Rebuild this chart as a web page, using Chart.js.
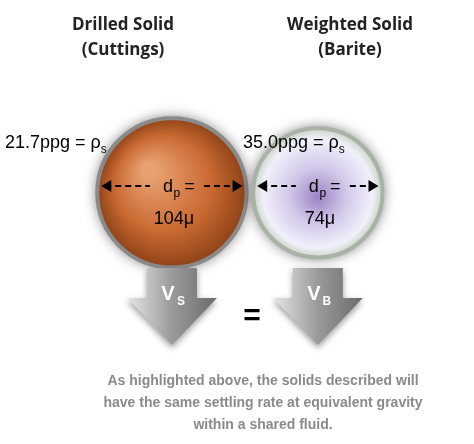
<!DOCTYPE html>
<html><head><meta charset="utf-8">
<script src="https://cdn.jsdelivr.net/npm/chart.js@4"></script>
<style>html,body{margin:0;background:#fff}#wrap{width:474px;height:444px}</style>
</head><body><div id="wrap"><canvas id="myChart"></canvas></div>
<script>
var titles = [["Drilled Solid", "(Cuttings)"], ["Weighted Solid", "(Barite)"]];
var densities = ["21.7ppg", "35.0ppg"];
var diameters = [104, 74];
var velocityLabels = ["S", "B"];
var xPos = [142, 355];
var note = ["As highlighted above, the solids described will",
            "have the same settling rate at equivalent gravity",
            "within a shared fluid."];

var fills = [
  function (c, x, y, r) {
    var g = c.createRadialGradient(x - r * 0.3, y - r * 0.3, r * 0.1, x, y, r);
    g.addColorStop(0, '#e8a070'); g.addColorStop(0.6, '#c96a32'); g.addColorStop(1, '#8f4317');
    return g;
  },
  function (c, x, y, r) {
    var g = c.createRadialGradient(x, y + 5, 0, x, y, r);
    g.addColorStop(0, '#9d84c4'); g.addColorStop(0.45, '#d3c9ea'); g.addColorStop(0.85, '#f1f0fa'); g.addColorStop(1, '#c9d4c4');
    return g;
  }
];

var drawing = {
  id: 'drawing',
  afterDatasetsDraw: function (chart) {
    var c = chart.ctx;
    var meta = chart.getDatasetMeta(0);
    c.save();
    c.textAlign = 'center';
    meta.data.forEach(function (pt, i) {
      var x = pt.x, y = pt.y, r = pt.options.radius;
      c.shadowColor = 'rgba(0,0,0,0.6)'; c.shadowBlur = 14;
      c.beginPath(); c.arc(x, y, r, 0, Math.PI * 2);
      c.fillStyle = fills[i](c, x, y, r); c.fill();
      c.shadowBlur = 0;
      c.lineWidth = 4; c.strokeStyle = i ? '#a9b2a6' : '#8a8a8a'; c.stroke();
      c.fillStyle = '#222'; c.font = 'bold 17px "Open Sans", sans-serif';
      c.fillText(titles[i][0], i ? 350 : 123, 30);
      c.fillText(titles[i][1], i ? 350 : 123, 55);
      c.font = '18px "Liberation Sans", Arial, sans-serif'; c.textAlign = 'left';
      c.fillStyle = '#000';
      var tx = i ? 243 : 5;
      c.fillText(densities[i] + ' = ρ', tx, 148);
      var w = c.measureText(densities[i] + ' = ρ').width;
      c.font = '12px "Liberation Sans", Arial, sans-serif';
      c.fillText('s', tx + w, 153);
      c.textAlign = 'center';
      c.font = '18px "Liberation Sans", Arial, sans-serif';
      c.fillText('d', x - 4, 192); c.font = '12px "Liberation Sans", Arial, sans-serif';
      c.fillText('p', x + 5, 197);
      c.font = '18px "Liberation Sans", Arial, sans-serif';
      c.fillText('= ', x + 20, 192);
      c.fillText(diameters[i] + 'μ', x + 2, 224);
      c.setLineDash([6, 4]); c.lineWidth = 2; c.strokeStyle = '#000';
      c.beginPath(); c.moveTo(x - r + 8, 186); c.lineTo(x - 22, 186);
      c.moveTo(x + 32, 186); c.lineTo(x + r - 8, 186); c.stroke();
      c.setLineDash([]);
      c.beginPath();
      c.moveTo(x - r + 4, 186); c.lineTo(x - r + 14, 180); c.lineTo(x - r + 14, 192); c.closePath();
      c.moveTo(x + r - 4, 186); c.lineTo(x + r - 14, 180); c.lineTo(x + r - 14, 192); c.closePath();
      c.fillStyle = '#000'; c.fill();
      var ag = c.createLinearGradient(x - 45, 0, x + 45, 0);
      ag.addColorStop(0, '#e6e6e6'); ag.addColorStop(0.5, '#9a9a9a'); ag.addColorStop(1, '#6a6a6a');
      c.shadowColor = 'rgba(0,0,0,0.4)'; c.shadowBlur = 6; c.shadowOffsetY = 3;
      c.beginPath();
      c.moveTo(x - 25, 268); c.lineTo(x + 25, 268); c.lineTo(x + 25, 298);
      c.lineTo(x + 45, 298); c.lineTo(x, 345); c.lineTo(x - 45, 298); c.lineTo(x - 25, 298);
      c.closePath(); c.fillStyle = ag; c.fill();
      c.shadowBlur = 0; c.shadowOffsetY = 0;
      c.fillStyle = '#fff'; c.font = 'bold 20px "Liberation Sans", Arial, sans-serif';
      c.fillText('V', x - 4, 300);
      c.font = 'bold 12px "Liberation Sans", Arial, sans-serif';
      c.fillText(velocityLabels[i], x + 9, 305);
    });
    c.fillStyle = '#000'; c.font = 'bold 30px "Liberation Sans", Arial, sans-serif';
    c.fillText('=', 252, 325);
    c.fillStyle = '#8a8a8a'; c.font = 'bold 14px "Liberation Sans", Arial, sans-serif';
    note.forEach(function (s, k) { c.fillText(s, 263, 385 + k * 22); });
    c.restore();
  }
};

new Chart(document.getElementById('myChart'), {
  type: 'bubble',
  data: {
    datasets: [{
      data: xPos.map(function (x, i) { return { x: x, y: 178, r: 40 + diameters[i] / 3 }; }),
      backgroundColor: 'rgba(0,0,0,0)', borderWidth: 0
    }]
  },
  options: {
    responsive: true, maintainAspectRatio: false, animation: false,
    layout: { padding: 0 },
    scales: {
      x: { display: false, min: 0, max: 474 },
      y: { display: false, min: 0, max: 444, reverse: true }
    },
    plugins: { legend: { display: false }, tooltip: { enabled: false } }
  },
  plugins: [drawing]
});
</script></body></html>
